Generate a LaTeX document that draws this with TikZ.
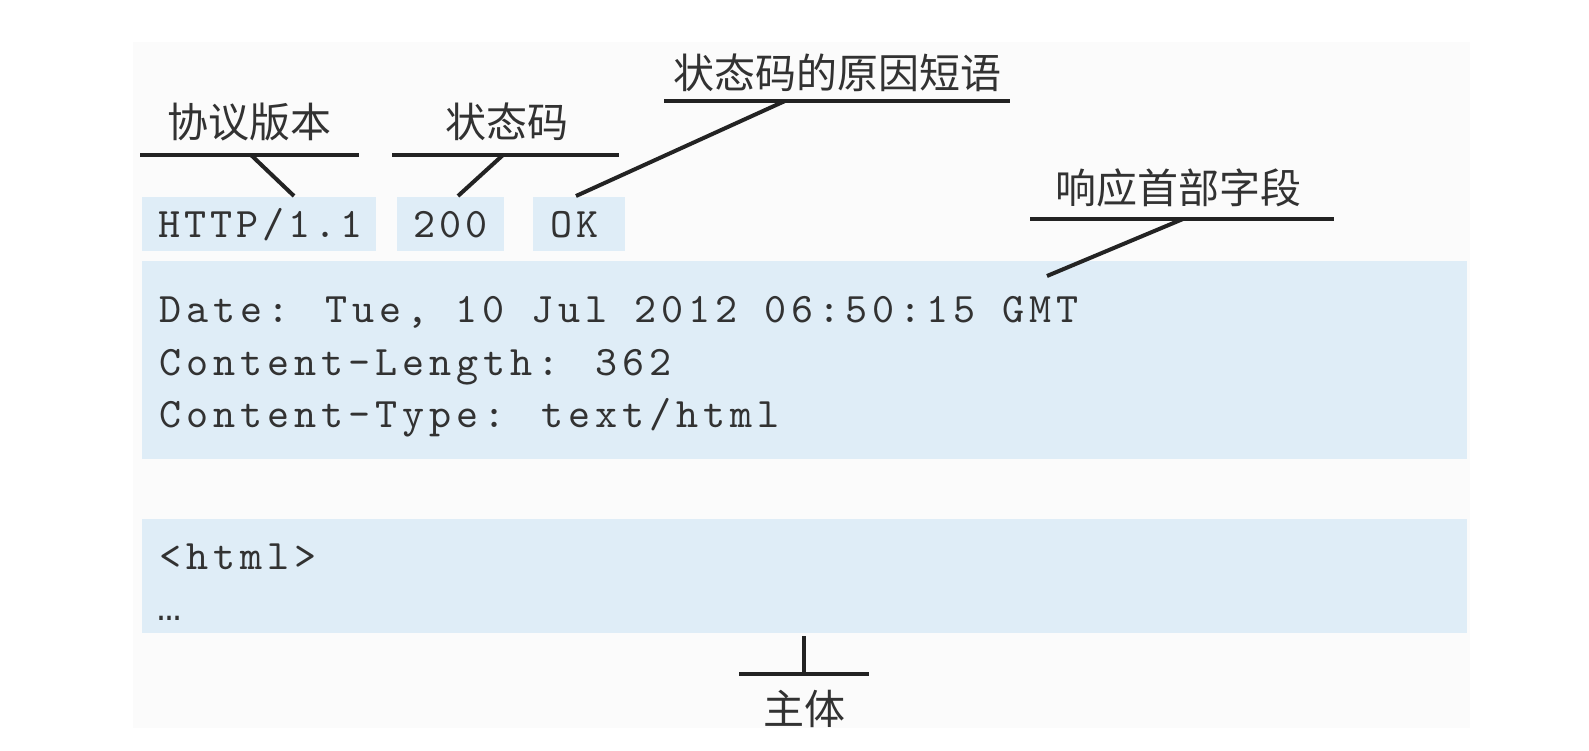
\documentclass[tikz,border=0pt]{standalone}
\usepackage{fontspec}
\newfontfamily\codefont{lmmono10-regular.otf}[LetterSpace=9.5]
\newfontfamily\codefontwide{lmmono10-regular.otf}[LetterSpace=11.8]
\newfontfamily\dotsfont{Liberation Mono}
\newfontfamily\cjk{Noto Sans CJK SC}
\definecolor{boxblue}{RGB}{223,237,247}
\definecolor{ink}{RGB}{35,35,35}
\definecolor{txt}{RGB}{50,50,50}
\definecolor{paper}{RGB}{251,251,251}
\begin{document}
\begin{tikzpicture}[x=1pt,y=-1pt,
  lbl/.style={font=\cjk\fontsize{41}{41}\selectfont, text=txt, inner sep=0pt},
  code/.style={font=\codefont\fontsize{42}{42}\selectfont, text=txt, inner sep=0pt, anchor=base west},
  codewide/.style={code, font=\codefontwide\fontsize{42}{42}\selectfont},
  field/.style={fill=boxblue, draw=none, inner sep=0pt},
  lead/.style={draw=ink, line width=4pt}]
\useasboundingbox (0,0) rectangle (1589,751);
\fill[white] (0,0) rectangle (1589,751);
\fill[paper] (133,42) rectangle (1470,728);
% boxes
\node[field, minimum width=234pt, minimum height=54pt] (vbox) at (259,224) {};
\node[field, minimum width=107pt, minimum height=54pt] (cbox) at (450.5,224) {};
\node[field, minimum width=92pt, minimum height=54pt] (rbox) at (579,224) {};
\node[field, minimum width=1325pt, minimum height=198pt] (hbox) at (804.5,360) {};
\node[field, minimum width=1325pt, minimum height=114pt] (bbox) at (804.5,576) {};
% code text
\node[code] (t1) at (158,238) {HTTP/1.1};
\node[code] (t2) at (413,238) {200};
\node[code] (t3) at (550,238) {OK};
\node[codewide] (h1) at (159,322) {Date: Tue, 10 Jul 2012 06:50:15 GMT};
\node[codewide] (h2) at (159,375) {Content-Length: 362};
\node[codewide] (h3) at (159,427) {Content-Type: text/html};
\node[codewide] (b1) at (159,569) {<html>};
\node[code, font=\dotsfont\fontsize{40}{40}\selectfont] (b2) at (157,620) {…};
% labels
\node[lbl] (l1) at (249,122) {协议版本};
\node[lbl] (l2) at (507,122) {状态码};
\node[lbl] (l3) at (837,73) {状态码的原因短语};
\node[lbl] (l4) at (1178,188) {响应首部字段};
\node[lbl] (l5) at (804,709) {主体};
% leader coordinates
\coordinate (a1) at (140,155); \coordinate (b1e) at (359,155); \coordinate (u1) at (251,155); \coordinate (v1) at (294,196);
\coordinate (a2) at (392,155); \coordinate (b2e) at (619,155); \coordinate (u2) at (503,155); \coordinate (v2) at (458,196);
\coordinate (a3) at (664,101); \coordinate (b3e) at (1010,101); \coordinate (u3) at (785,101); \coordinate (v3) at (576,196);
\coordinate (a4) at (1030,219); \coordinate (b4e) at (1334,219); \coordinate (u4) at (1183,219); \coordinate (v4) at (1047,276);
\coordinate (a5) at (739,674); \coordinate (b5e) at (869,674); \coordinate (u5) at (804,674); \coordinate (v5) at (804,636);
\draw[lead] (a1) -- (b1e); \draw[lead] (u1) -- (v1);
\draw[lead] (a2) -- (b2e); \draw[lead] (u2) -- (v2);
\draw[lead] (a3) -- (b3e); \draw[lead] (u3) -- (v3);
\draw[lead] (a4) -- (b4e); \draw[lead] (u4) -- (v4);
\draw[lead] (a5) -- (b5e); \draw[lead] (u5) -- (v5);
\end{tikzpicture}
\end{document}
